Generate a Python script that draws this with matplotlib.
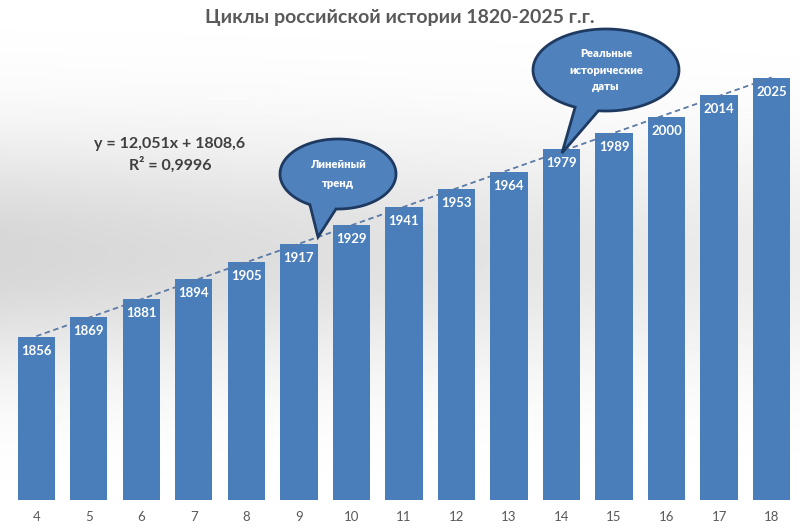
import numpy as np
import matplotlib
matplotlib.use('Agg')
import matplotlib.pyplot as plt
from matplotlib.patches import Polygon

# data
periods = [4, 5, 6, 7, 8, 9, 10, 11, 12, 13, 14, 15, 16, 17, 18]
years = [1856, 1869, 1881, 1894, 1905, 1917, 1929, 1941, 1953, 1964,
         1979, 1989, 2000, 2014, 2025]
trend_slope = 12.051
trend_icept = 1808.6
title = 'Циклы российской истории 1820-2025 г.г.'
eq_text = 'y = 12,051x + 1808,6\nR² = 0,9996'

plt.rcParams['font.family'] = ['Lato', 'DejaVu Sans']

W, H = 800, 531
fig = plt.figure(figsize=(W / 100, H / 100), dpi=100)

# soft grey slide background
bg = fig.add_axes([0, 0, 1, 1], zorder=-10)
yy = np.linspace(0, 1, 300)[:, None]
xx = np.linspace(0, 1, 400)[None, :]
shade = 0.16 * np.exp(-((yy - 0.48) / 0.22) ** 2) * (1 - 0.55 * xx)
bg.imshow(1 - shade, cmap='gray', vmin=0, vmax=1, aspect='auto',
          extent=[0, 1, 0, 1], origin='upper')
bg.axis('off')

ax = fig.add_axes([0, 31 / H, 1, 500 / H])
ax.patch.set_alpha(0)
bar_color = '#4a7ebb'
ax.bar(periods, years, width=0.71, bottom=0, color=bar_color, zorder=2)
ax.set_xlim(3.31, 18.54)
ax.set_ylim(1750, 2076)
for s in ax.spines.values():
    s.set_visible(False)
ax.set_yticks([])
ax.set_xticks(periods)
ax.set_xticklabels([str(p) for p in periods])
ax.tick_params(axis='x', length=0, pad=8, labelsize=9.5, labelcolor='#595959')

for p, y in zip(periods, years):
    ax.annotate(str(y), (p, y), xytext=(0, -14), textcoords='offset pixels',
                ha='center', va='center', color='white', fontsize=9.5,
                fontweight='bold', zorder=4)

xt = np.array([periods[0], periods[-1]], dtype=float)
ax.plot(xt, trend_slope * xt + trend_icept, linestyle=(0, (3, 2)),
        color='#5b7aa5', lw=1.3, zorder=3)

fig.text(0.5, 1 - 18 / H, title, ha='center', va='center', fontsize=14,
         fontweight='bold', color='#595959')
fig.text(170 / W, 1 - 155 / H, eq_text, ha='center', va='center',
         fontsize=11.5, fontweight='bold', color='#404040', linespacing=1.4)


def callout(cx, cy, a, b, t1, t2, tip, text, lsp):
    ts = np.radians(np.linspace(t2, t1 + 360, 200))
    px = cx + a * np.cos(ts)
    py = cy - b * np.sin(ts)
    pts = [(x / W, 1 - y / H) for x, y in zip(px, py)]
    pts.append((tip[0] / W, 1 - tip[1] / H))
    fig.add_artist(Polygon(pts, closed=True, transform=fig.transFigure,
                           facecolor='#4f81bd', edgecolor='#1f3a60', lw=2,
                           zorder=5))
    fig.text(cx / W, 1 - cy / H, text, ha='center', va='center',
             color='white', fontsize=8, fontweight='heavy', linespacing=lsp,
             zorder=6)


callout(338, 174, 58, 35, 241, 268, (318, 237), 'Линейный\nтренд', 1.8)
callout(606, 70, 73, 41, 245, 264, (562, 153),
        'Реальные\nисторические\nдаты', 1.6)

fig.savefig('out.png', dpi=100)
